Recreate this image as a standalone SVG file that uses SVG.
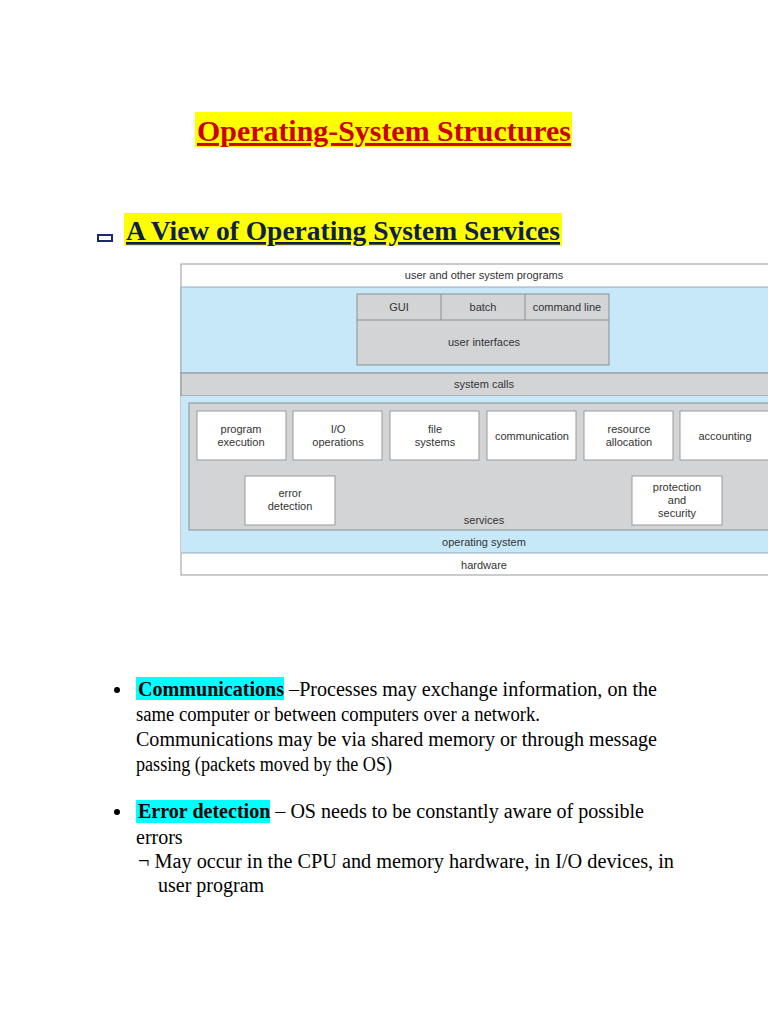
<svg xmlns="http://www.w3.org/2000/svg" width="768" height="1024" viewBox="0 0 768 1024">
<style>
.d{font-family:"Liberation Sans",Arial,sans-serif;font-size:11px;fill:#333;text-anchor:middle}
.b{fill:#fff;stroke:#999;stroke-width:1}
.g{fill:#d3d4d6;stroke:#8a8f96;stroke-width:1}
.t{font-family:"Liberation Serif","Times New Roman",serif;font-size:20px;fill:#000}
</style>
<rect width="768" height="1024" fill="#fff"/>
<g id="title">
<rect x="195" y="112" width="377" height="35" fill="#ffff00"/>
<text x="197" y="141" textLength="374" lengthAdjust="spacingAndGlyphs" font-family="Liberation Serif,serif" font-weight="bold" font-size="29" fill="#cc0000" text-decoration="underline">Operating-System Structures</text>
</g>
<g id="subtitle">
<rect x="98" y="235" width="14" height="6" fill="none" stroke="#1a2a6c" stroke-width="2"/>
<rect x="124" y="213" width="438" height="33" fill="#ffff00"/>
<text x="126" y="240" textLength="434" lengthAdjust="spacingAndGlyphs" font-family="Liberation Serif,serif" font-weight="bold" font-size="27" fill="#0d1f4a" text-decoration="underline">A View of Operating System Services</text>
</g>
<g id="diagram">
<rect x="181" y="264" width="590" height="311" fill="#fff" stroke="#999"/>
<g id="userprog"><text class="d" x="484" y="279">user and other system programs</text></g>
<rect x="181" y="287" width="590" height="86" fill="#c6e8f8" stroke="#9ab"/>
<g id="ui">
<rect class="g" x="357" y="294" width="252" height="71"/>
<line x1="357" y1="320" x2="609" y2="320" stroke="#8a8f96"/>
<line x1="441" y1="294" x2="441" y2="320" stroke="#8a8f96"/>
<line x1="525" y1="294" x2="525" y2="320" stroke="#8a8f96"/>
<text class="d" x="399" y="311">GUI</text>
<text class="d" x="483" y="311">batch</text>
<text class="d" x="567" y="311">command line</text>
<text class="d" x="484" y="346">user interfaces</text>
</g>
<g id="syscalls"><rect class="g" x="181" y="373" width="590" height="23"/>
<text class="d" x="484" y="388">system calls</text></g>
<rect x="181" y="396" width="590" height="157" fill="#c6e8f8"/>
<g id="services">
<rect class="g" x="189" y="403" width="582" height="127"/>
<text class="d" x="484" y="524">services</text>
</g>
<g id="s1"><rect class="b" x="197" y="411" width="89" height="49"/><text class="d" x="241" y="433">program</text><text class="d" x="241" y="446">execution</text></g>
<g id="s2"><rect class="b" x="293" y="411" width="89" height="49"/><text class="d" x="338" y="433">I/O</text><text class="d" x="338" y="446">operations</text></g>
<g id="s3"><rect class="b" x="390" y="411" width="89" height="49"/><text class="d" x="435" y="433">file</text><text class="d" x="435" y="446">systems</text></g>
<g id="s4"><rect class="b" x="487" y="411" width="89" height="49"/><text class="d" x="532" y="440">communication</text></g>
<g id="s5"><rect class="b" x="584" y="411" width="89" height="49"/><text class="d" x="629" y="433">resource</text><text class="d" x="629" y="446">allocation</text></g>
<g id="s6"><rect class="b" x="680" y="411" width="95" height="49"/><text class="d" x="725" y="440">accounting</text></g>
<g id="s7"><rect class="b" x="245" y="476" width="90" height="49"/><text class="d" x="290" y="497">error</text><text class="d" x="290" y="510">detection</text></g>
<g id="s8"><rect class="b" x="632" y="476" width="90" height="49"/><text class="d" x="677" y="491">protection</text><text class="d" x="677" y="504">and</text><text class="d" x="677" y="517">security</text></g>
<g id="os"><text class="d" x="484" y="546">operating system</text></g>
<line x1="181" y1="553" x2="771" y2="553" stroke="#9ab"/>
<g id="hw"><text class="d" x="484" y="569">hardware</text></g>
</g>
<g id="connectors"></g>
<g id="bullets">
<circle cx="117" cy="690" r="3" fill="#000"/>
<rect x="136" y="677" width="148" height="23" fill="#00ffff"/>
<text class="t" x="138" y="696" textLength="519" lengthAdjust="spacingAndGlyphs"><tspan font-weight="bold">Communications</tspan> –Processes may exchange information, on the</text>
<text class="t" x="136" y="721" textLength="404" lengthAdjust="spacingAndGlyphs">same computer or between computers over a network.</text>
<text class="t" x="136" y="746" textLength="521" lengthAdjust="spacingAndGlyphs">Communications may be via shared memory or through message</text>
<text class="t" x="136" y="771" textLength="256" lengthAdjust="spacingAndGlyphs">passing (packets moved by the OS)</text>
<circle cx="117" cy="812" r="3" fill="#000"/>
<rect x="136" y="800" width="134" height="23" fill="#00ffff"/>
<text class="t" x="138" y="818" textLength="506" lengthAdjust="spacingAndGlyphs"><tspan font-weight="bold">Error detection</tspan> – OS needs to be constantly aware of possible</text>
<text class="t" x="136" y="844">errors</text>
<text class="t" x="138" y="868" textLength="536" lengthAdjust="spacingAndGlyphs">¬ May occur in the CPU and memory hardware, in I/O devices, in</text>
<text class="t" x="158" y="892">user program</text>
</g>
</svg>
